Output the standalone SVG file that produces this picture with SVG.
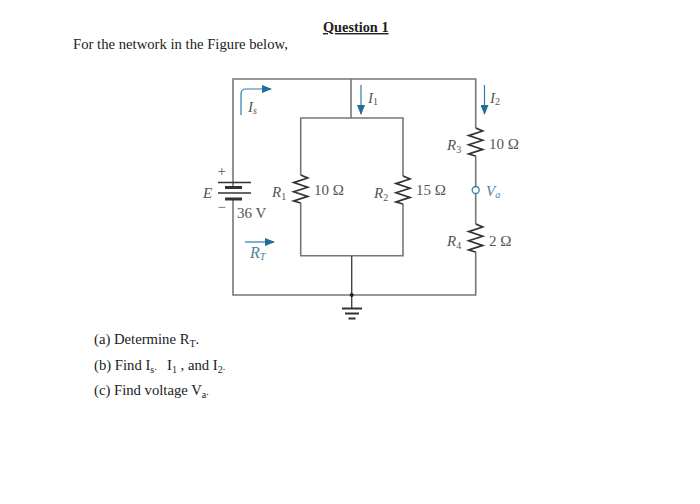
<svg xmlns="http://www.w3.org/2000/svg" width="700" height="504" viewBox="0 0 700 504">
<style>
text{font-family:"Liberation Serif",serif;fill:#333}
.doc{font-size:14.700px;fill:#222}
.lab{font-size:15px;fill:#555}
.it{font-style:italic;font-size:15px;fill:#555}
.blue{font-style:italic;font-size:15px;fill:#4a7f9c}
.sub{font-size:10px}
.w{fill:none;stroke:#777;stroke-width:1.6}
.r{fill:none;stroke:#333;stroke-width:1.7;stroke-linejoin:miter}
.a{fill:none;stroke:#2f7fa8;stroke-width:1.2}
.dk{stroke:#333;fill:none}
</style>
<defs>
<marker id="ah" viewBox="0 0 10 8" refX="9" refY="4" markerWidth="10" markerHeight="8" markerUnits="userSpaceOnUse" orient="auto"><path d="M0 0L10 4L0 8z" fill="#1f6f9c"/></marker>
<path id="zig" class="r" d="M0 0L7 3L-7 7.6L7 12.2L-7 16.8L7 21.4L-7 26L0 28"/>
</defs>
<rect width="700" height="504" fill="#fff"/>
<g id="connectors">
<path class="w" d="M233 187V79H475.700V128M475.700 156V186.500M475.700 193.500V224M475.700 252V295H233V199"/>
<path class="w" d="M351 79V118M300.700 175V118H403V176M403 204V255.700H300.700V203"/>
<path d="M351.700 255.700V308" stroke="#444" stroke-width="1.400" fill="none"/>
<path class="a" d="M241 115V94Q241 89 246 89H271" marker-end="url(#ah)"/>
<path class="a" d="M361 85V114" marker-end="url(#ah)"/>
<path class="a" d="M484.500 85V114" marker-end="url(#ah)"/>
<path class="a" d="M245 242H274" marker-end="url(#ah)"/>
</g>
<g id="title"><text class="doc" x="323" y="32" font-weight="bold" text-decoration="underline" style="font-size:14.300px">Question 1</text></g>
<g id="intro"><text class="doc" x="73" y="49">For the network in the Figure below,</text></g>
<g id="battery">
<path class="dk" stroke-width="1.600" d="M218 182.500H251M218 193H251"/>
<path class="dk" stroke-width="3" d="M225 187.500H242M225 199H242"/>
<text class="lab" x="221.700" y="176" text-anchor="middle">+</text>
<text class="lab" x="221.700" y="212" text-anchor="middle">−</text>
<text class="it" x="203" y="198">E</text>
<text class="lab" x="237" y="218">36 V</text>
</g>
<g id="R1"><use href="#zig" x="300.700" y="175"/><text class="it" x="272" y="197">R<tspan class="sub" dy="3" font-style="normal">1</tspan></text><text class="lab" x="314" y="195">10 Ω</text></g>
<g id="R2"><use href="#zig" x="403" y="176"/><text class="it" x="374" y="198">R<tspan class="sub" dy="3" font-style="normal">2</tspan></text><text class="lab" x="416" y="195">15 Ω</text></g>
<g id="R3"><use href="#zig" x="475.700" y="128"/><text class="it" x="447" y="150">R<tspan class="sub" dy="3" font-style="normal">3</tspan></text><text class="lab" x="489" y="149">10 Ω</text></g>
<g id="R4"><use href="#zig" x="475.700" y="224"/><text class="it" x="447" y="246">R<tspan class="sub" dy="3" font-style="normal">4</tspan></text><text class="lab" x="489" y="246">2 Ω</text></g>
<g id="Va"><circle cx="475.700" cy="190" r="3.500" fill="#fff" stroke="#3a7fa5" stroke-width="1.300"/><text class="blue" x="486" y="196">V<tspan class="sub" dy="2">a</tspan></text></g>
<g id="ground">
<circle cx="351.700" cy="295" r="2" fill="#222"/>
<path class="dk" stroke-width="2.200" d="M342 308.500H362M345 313.500H359M348.500 318.500H355.500"/>
</g>
<g id="currents">
<text class="it" x="248" y="112">I<tspan class="sub" dy="2">s</tspan></text>
<text class="it" x="368" y="103">I<tspan class="sub" dy="2" font-style="normal">1</tspan></text>
<text class="it" x="490" y="103">I<tspan class="sub" dy="2" font-style="normal">2</tspan></text>
<text class="blue" x="250" y="258" style="font-size:16px">R<tspan class="sub" dy="2">T</tspan></text>
</g>
<g id="questions">
<text class="doc" x="94" y="344">(a) Determine R<tspan class="sub" dy="3">T</tspan><tspan dy="-3">.</tspan></text>
<text class="doc" x="94" y="370">(b) Find I<tspan class="sub" dy="3">s</tspan><tspan dy="-3" class="sub">.</tspan><tspan x="167">I</tspan><tspan class="sub" dy="3">1</tspan><tspan dy="-3"> , and I</tspan><tspan class="sub" dy="3">2</tspan><tspan dy="-3" class="sub">.</tspan></text>
<text class="doc" x="94" y="395">(c) Find voltage V<tspan class="sub" dy="3">a</tspan><tspan dy="-3" class="sub">.</tspan></text>
</g>
</svg>
